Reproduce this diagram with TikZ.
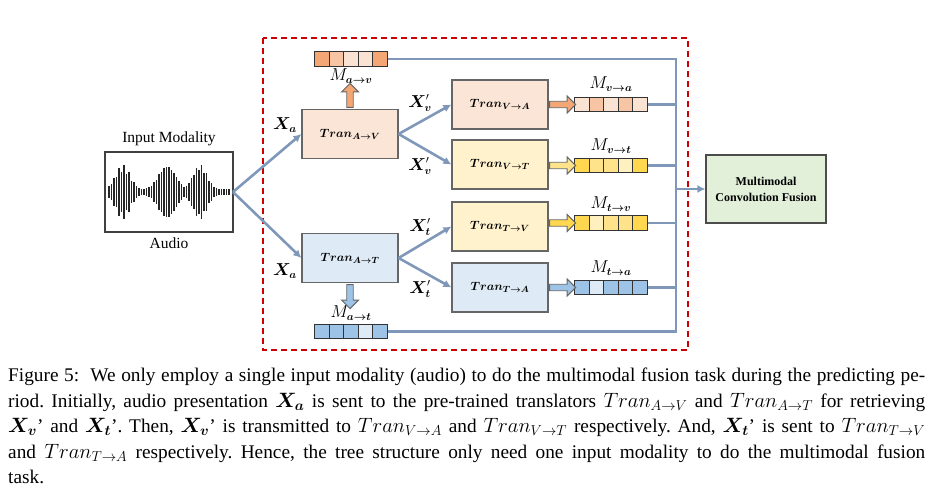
\documentclass[tikz,border=0pt]{standalone}
\usepackage{amsmath,amssymb,bm}
\usepackage{fontspec}
\setmainfont{Liberation Serif}
\usetikzlibrary{shapes.arrows,arrows.meta}
\definecolor{ln}{HTML}{7F98BA}
\definecolor{oD}{HTML}{F4A775}\definecolor{oM}{HTML}{F8C5A4}\definecolor{oL}{HTML}{FBE3D4}
\definecolor{yD}{HTML}{FFD84F}\definecolor{yM}{HTML}{FFE38A}\definecolor{yL}{HTML}{FFF0C0}
\definecolor{bD}{HTML}{9DC3E6}\definecolor{bL}{HTML}{DEEBF7}
\definecolor{pch}{HTML}{FBE5D6}\definecolor{ylw}{HTML}{FFF2CC}\definecolor{blu}{HTML}{DEEBF7}\definecolor{grn}{HTML}{E2F0D9}
\begin{document}
\frenchspacing
\begin{tikzpicture}[x=1pt,y=-1pt,
  tr/.style={draw=black!60,line width=1.2pt,minimum width=96pt,minimum height=49pt,inner sep=0pt,font=\fontsize{12.5}{14}\selectfont},
  con/.style={draw=ln,line width=2.6pt,-{Latex[length=8pt,width=8pt]}},
  bus/.style={draw=ln,line width=2.6pt},
  cell/.style={draw=black!80,line width=1pt,minimum width=14.5pt,minimum height=14.5pt,inner sep=0pt},
  lab/.style={font=\fontsize{16}{18}\selectfont},
  barr/.style={single arrow,draw=black!60,line width=0.9pt,single arrow head extend=4pt,minimum height=26pt,minimum width=17pt,inner sep=2pt,anchor=center}]
\useasboundingbox (0,0) rectangle (941,500);
\draw[red!80!black,line width=1.8pt,dash pattern=on 6pt off 4pt] (263,38) rectangle (688,350);
% audio
\node[draw=black!75,line width=1.2pt,minimum width=128pt,minimum height=80pt,inner sep=0pt] (aud) at (169,192) {};
\node[font=\fontsize{15.5}{17}\selectfont] (im) at (169,139) {Input Modality};
\node[font=\fontsize{15.5}{17}\selectfont] (au) at (169,243) {Audio};
\foreach \x in {109,111.5,...,230}{
  \pgfmathsetmacro{\ea}{exp(-min(((\x-123)/10)^2,9))}
  \pgfmathsetmacro{\eb}{exp(-min(((\x-167)/12)^2,9))}
  \pgfmathsetmacro{\ec}{exp(-min(((\x-200)/10)^2,9))}
  \pgfmathsetmacro{\h}{2.5+25*max(max(\ea,\eb),\ec)*(0.7+0.3*abs(sin(\x*37)))}
  \draw[black!85,line width=1.2pt] (\x,192-\h) -- (\x,192+\h);}
\coordinate (ao) at (233,192);
% translators
\node[tr,fill=pch] (av) at (350,134) {$\bm{Tran_{A\to V}}$};
\node[tr,fill=blu] (at) at (350,258) {$\bm{Tran_{A\to T}}$};
\node[tr,fill=pch] (va) at (500,104.5) {$\bm{Tran_{V\to A}}$};
\node[tr,fill=ylw] (vt) at (500,164.5) {$\bm{Tran_{V\to T}}$};
\node[tr,fill=ylw] (tv) at (500,226.5) {$\bm{Tran_{T\to V}}$};
\node[tr,fill=blu] (ta) at (500,287.5) {$\bm{Tran_{T\to A}}$};
\node[draw=black!70,line width=1.2pt,fill=grn,minimum width=120pt,minimum height=68pt,align=center,font=\bfseries\fontsize{12}{16}\selectfont] (fu) at (766,189) {Multimodal\\Convolution Fusion};
% arrows
\draw[con] (ao) -- (av.west);
\draw[con] (ao) -- (at.west);
\draw[con] (av.east) -- (va.west);
\draw[con] (av.east) -- (vt.west);
\draw[con] (at.east) -- (tv.west);
\draw[con] (at.east) -- (ta.west);
\node[lab] (xa1) at (285,125) {$\bm{X_a}$};
\node[lab] (xa2) at (285,271) {$\bm{X_a}$};
\node[lab] (xv1) at (420,103) {$\bm{X_v}'$};
\node[lab] (xv2) at (420,166) {$\bm{X_v}'$};
\node[lab] (xt1) at (420,227) {$\bm{X_t}'$};
\node[lab] (xt2) at (420,289) {$\bm{X_t}'$};
% memory bars
\newcommand{\mbar}[7]{%
  \foreach \c [count=\i from 0] in {#3,#4,#5,#6,#7}{\node[cell,fill=\c] (#1\i) at (#2+\i*14.5,0) {};}}
\begin{scope}[shift={(0,59)}]\mbar{mav}{322}{oD}{oM}{oL}{oL}{oD}\end{scope}
\begin{scope}[shift={(0,104.5)}]\mbar{mva}{582}{oL}{oM}{oL}{oM}{oL}\end{scope}
\begin{scope}[shift={(0,165.5)}]\mbar{mvt}{582}{yD}{yM}{yM}{yL}{yD}\end{scope}
\begin{scope}[shift={(0,223)}]\mbar{mtv}{582}{yD}{yL}{yM}{yM}{yD}\end{scope}
\begin{scope}[shift={(0,287.5)}]\mbar{mta}{582}{bD}{bL}{bD}{bD}{bD}\end{scope}
\begin{scope}[shift={(0,331.5)}]\mbar{mat}{322}{bD}{bD}{bD}{bL}{bD}\end{scope}
\node[lab] (lav) at (351,76) {$M_{\bm{a\to v}}$};
\node[lab] (lva) at (611,84) {$M_{\bm{v\to a}}$};
\node[lab] (lvt) at (611,146) {$M_{\bm{v\to t}}$};
\node[lab] (ltv) at (611,204) {$M_{\bm{t\to v}}$};
\node[lab] (lta) at (611,268) {$M_{\bm{t\to a}}$};
\node[lab] (lat) at (351,313) {$M_{\bm{a\to t}}$};
% block arrows
\node[barr,fill=oD,rotate=90,minimum height=24pt] (b1) at (350,97) {};
\node[barr,fill=bD,rotate=-90,minimum height=24pt] (b2) at (350,295) {};
\node[barr,fill=oD] (b3) at (561,104.5) {};
\node[barr,fill=yM] (b4) at (561,165.5) {};
\node[barr,fill=yD] (b5) at (561,223) {};
\node[barr,fill=bD] (b6) at (561,287.5) {};
% bus
\coordinate (bt) at (676,59);
\coordinate (bb) at (676,331.5);
\coordinate (bm) at (676,189);
\draw[bus] (mav4.east) -- (bt) -- (bb) -- (mat4.east);
\draw[bus] (mva4.east) -- (676,104.5);
\draw[bus] (mvt4.east) -- (676,165.5);
\draw[bus] (mtv4.east) -- (676,223);
\draw[bus] (mta4.east) -- (676,287.5);
\draw[con] (bm) -- (fu.west);
% caption
\node[anchor=north west,text width=917pt,align=justify,inner sep=0pt,font=\fontsize{19.3}{25.5}\selectfont] (cap) at (8,368) {Figure 5:\ \ We only employ a single input modality (audio) to do the multimodal fusion task during the predicting pe-\linebreak riod. Initially, audio presentation $\bm{X_a}$ is sent to the pre-trained translators $Tran_{A\rightarrow V}$ and $Tran_{A\rightarrow T}$ for retrieving\linebreak $\bm{X_v}$' and $\bm{X_t}$'. Then, $\bm{X_v}$' is transmitted to $Tran_{V\rightarrow A}$ and $Tran_{V\rightarrow T}$ respectively. And, $\bm{X_t}$' is sent to $Tran_{T\rightarrow V}$\linebreak and $Tran_{T\rightarrow A}$ respectively. Hence, the tree structure only need one input modality to do the multimodal fusion\linebreak task.};
\end{tikzpicture}
\end{document}
